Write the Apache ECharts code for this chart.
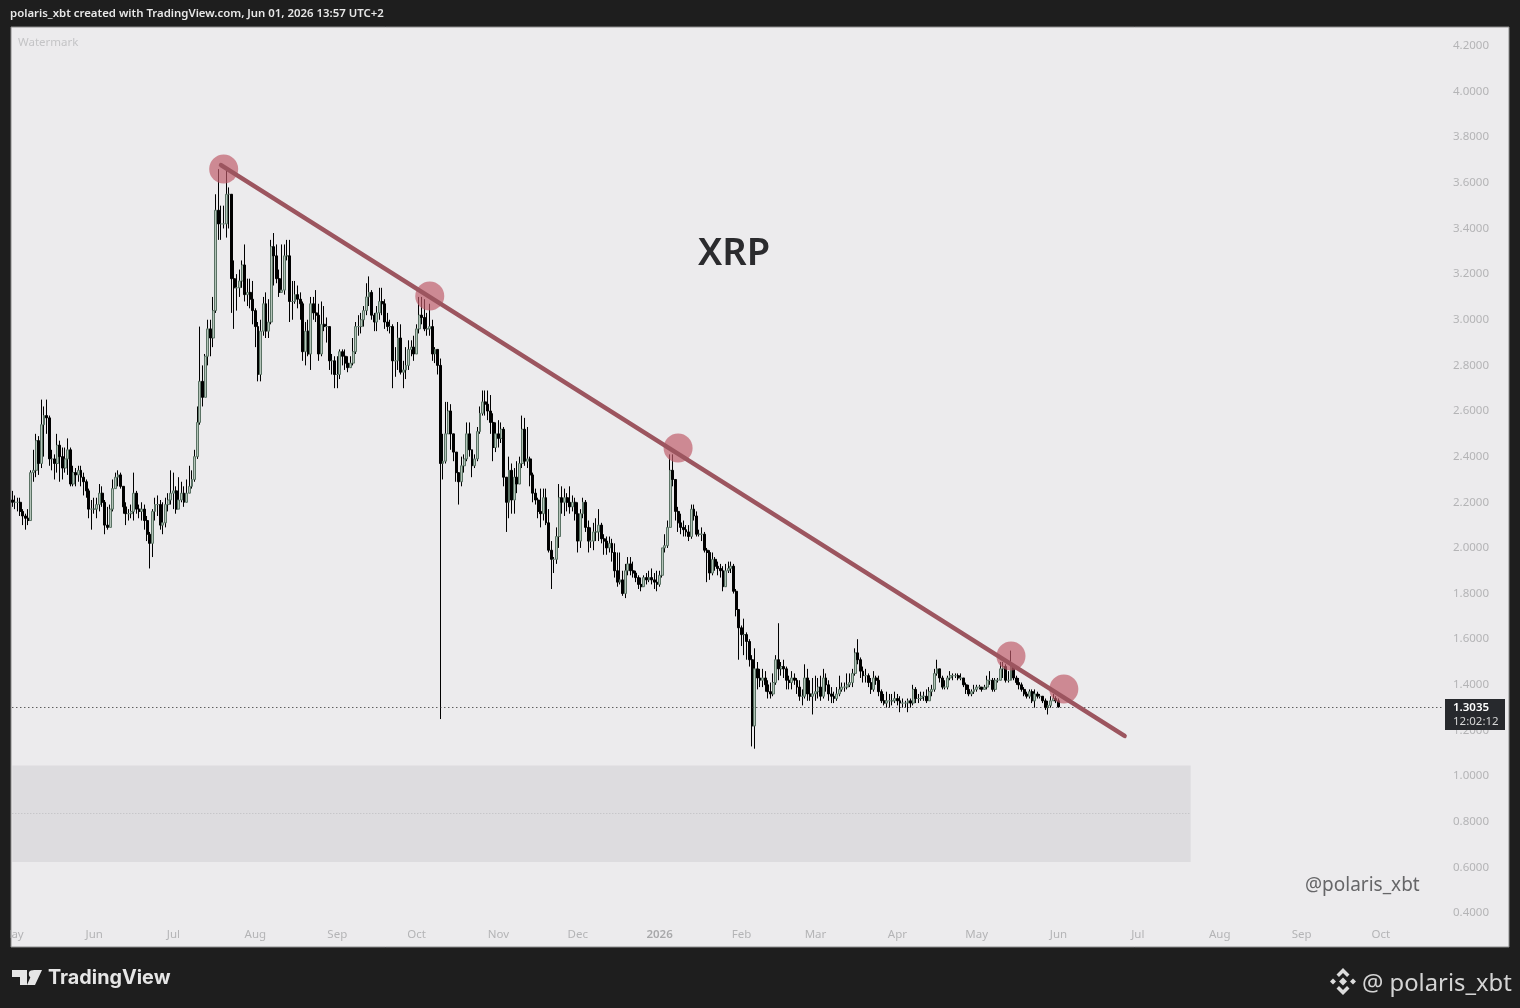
<!DOCTYPE html>
<html><head><meta charset="utf-8">
<style>html,body{margin:0;padding:0;background:#1e1e1e}#c{width:1520px;height:1008px}</style>
<script src="https://cdn.jsdelivr.net/npm/echarts@6/dist/echarts.min.js"></script>
</head><body><div id="c"></div>
<script>
// Daily XRP candles, 1 May 2025 – 1 Jun 2026 (one line per month)
const closes = [
2.20,2.20,2.20,2.16,2.14,2.13,2.12,2.33,2.34,2.47,2.37,2.54,2.58,2.57,2.39,2.39,2.37,2.45,2.40,2.35,2.39,2.43,2.28,2.33,2.32,2.34,2.31,2.29,2.25,2.17,2.17,
2.17,2.19,2.24,2.20,2.10,2.09,2.17,2.26,2.31,2.32,2.27,2.18,2.15,2.15,2.16,2.24,2.17,2.16,2.17,2.12,2.06,2.02,2.16,2.19,2.19,2.10,2.11,2.19,2.21,2.24,
2.25,2.17,2.21,2.24,2.20,2.24,2.27,2.30,2.40,2.55,2.73,2.66,2.84,2.96,2.92,3.04,3.48,3.42,3.42,3.42,3.55,3.55,3.18,3.14,3.14,3.17,3.24,3.11,3.12,3.09,3.04,
2.97,2.76,2.95,3.07,2.95,2.99,3.32,3.28,3.18,3.12,3.13,3.28,3.28,3.08,3.08,3.11,3.09,3.07,2.86,2.95,2.85,3.07,3.03,3.02,2.85,2.98,2.97,2.97,2.82,2.82,2.76,
2.76,2.86,2.84,2.81,2.79,2.81,2.86,2.97,2.97,3.00,3.04,3.10,3.12,3.02,2.99,3.03,3.08,3.07,2.99,2.97,2.97,2.82,2.82,2.92,2.77,2.78,2.80,2.87,2.88,2.85,
2.96,3.02,3.01,2.96,2.96,2.97,2.85,2.87,2.80,2.37,2.38,2.50,2.60,2.50,2.42,2.33,2.29,2.36,2.39,2.50,2.43,2.36,2.39,2.51,2.59,2.64,2.63,2.60,2.55,2.44,2.50,
2.48,2.52,2.31,2.20,2.34,2.21,2.31,2.28,2.37,2.52,2.38,2.39,2.32,2.24,2.21,2.16,2.15,2.22,2.11,1.99,1.95,1.95,2.05,2.22,2.20,2.22,2.20,2.18,2.20,2.15,
2.03,2.15,2.20,2.09,2.03,2.03,2.07,2.07,2.10,2.04,2.03,2.00,2.02,1.98,1.90,1.85,1.86,1.80,1.90,1.93,1.90,1.89,1.87,1.84,1.83,1.87,1.86,1.87,1.86,1.85,1.84,
1.88,2.00,2.01,2.09,2.34,2.30,2.16,2.11,2.09,2.08,2.07,2.05,2.17,2.14,2.06,2.06,2.06,1.99,1.98,1.89,1.95,1.92,1.91,1.90,1.83,1.90,1.91,1.92,1.81,1.73,1.65,
1.62,1.62,1.59,1.51,1.22,1.47,1.43,1.42,1.43,1.40,1.37,1.36,1.41,1.51,1.47,1.48,1.47,1.42,1.41,1.43,1.42,1.39,1.35,1.35,1.43,1.36,1.35,1.36,
1.37,1.39,1.35,1.43,1.40,1.36,1.35,1.34,1.36,1.38,1.39,1.39,1.40,1.41,1.45,1.54,1.51,1.46,1.44,1.44,1.41,1.38,1.43,1.42,1.37,1.33,1.32,1.33,1.33,1.33,1.34,
1.33,1.32,1.32,1.32,1.33,1.32,1.38,1.34,1.34,1.35,1.35,1.33,1.37,1.38,1.45,1.47,1.43,1.39,1.39,1.43,1.44,1.44,1.44,1.43,1.43,1.40,1.38,1.36,1.37,1.38,
1.39,1.39,1.38,1.39,1.42,1.42,1.38,1.42,1.42,1.47,1.48,1.42,1.42,1.48,1.43,1.41,1.40,1.38,1.36,1.35,1.37,1.33,1.36,1.35,1.35,1.33,1.30,1.31,1.33,1.34,1.33,
1.3035];
const highs = [
2.25,2.23,2.22,2.22,2.17,2.15,2.17,2.34,2.43,2.50,2.49,2.65,2.62,2.65,2.58,2.43,2.41,2.50,2.47,2.44,2.44,2.48,2.44,2.36,2.35,2.36,2.36,2.33,2.30,2.26,2.21,
2.22,2.22,2.28,2.27,2.21,2.18,2.19,2.30,2.33,2.34,2.33,2.27,2.20,2.17,2.19,2.33,2.25,2.19,2.20,2.19,2.14,2.07,2.17,2.22,2.23,2.21,2.20,2.22,2.24,2.34,
2.33,2.27,2.31,2.29,2.27,2.30,2.36,2.34,2.43,2.62,2.97,2.80,2.85,3.00,3.00,3.10,3.55,3.66,3.50,3.50,3.66,3.58,3.55,3.26,3.20,3.22,3.26,3.33,3.18,3.18,3.17,
3.05,2.99,3.00,3.10,3.12,3.09,3.35,3.38,3.33,3.22,3.33,3.33,3.35,3.35,3.17,3.17,3.15,3.12,3.08,2.99,3.00,3.10,3.10,3.13,3.07,3.08,3.06,3.01,2.97,2.85,2.84,
2.84,2.87,2.87,2.87,2.84,2.84,2.92,2.99,3.02,3.03,3.06,3.16,3.19,3.13,3.03,3.06,3.14,3.14,3.09,3.03,3.00,2.98,2.88,2.99,2.98,2.82,2.88,2.91,2.91,2.93,
2.98,3.10,3.10,3.09,3.03,3.07,3.00,2.88,2.87,2.83,2.50,2.64,2.64,2.63,2.50,2.42,2.33,2.40,2.41,2.55,2.55,2.43,2.41,2.53,2.62,2.69,2.69,2.69,2.67,2.59,2.55,
2.56,2.55,2.53,2.31,2.40,2.37,2.35,2.38,2.40,2.58,2.57,2.53,2.40,2.33,2.26,2.22,2.26,2.26,2.26,2.17,2.03,1.96,2.09,2.28,2.27,2.26,2.24,2.27,2.23,2.22,
2.20,2.17,2.22,2.21,2.12,2.09,2.11,2.13,2.17,2.11,2.06,2.05,2.05,2.04,2.02,1.98,1.98,1.90,1.93,1.96,1.96,1.94,1.90,1.88,1.87,1.88,1.89,1.90,1.91,1.89,1.90,
1.90,2.00,2.06,2.12,2.41,2.41,2.30,2.18,2.15,2.12,2.10,2.10,2.19,2.19,2.16,2.08,2.09,2.07,2.00,1.99,1.98,1.96,1.94,1.93,1.92,1.93,1.94,1.94,1.93,1.82,1.73,
1.66,1.69,1.63,1.60,1.53,1.56,1.50,1.47,1.47,1.46,1.42,1.41,1.45,1.53,1.67,1.50,1.51,1.48,1.44,1.46,1.45,1.43,1.42,1.38,1.49,1.47,1.42,1.43,
1.44,1.43,1.44,1.47,1.45,1.42,1.39,1.37,1.39,1.44,1.41,1.41,1.45,1.45,1.47,1.56,1.60,1.52,1.48,1.47,1.45,1.43,1.46,1.44,1.44,1.38,1.36,1.37,1.36,1.36,1.37,
1.36,1.35,1.34,1.33,1.34,1.34,1.40,1.39,1.36,1.37,1.37,1.38,1.39,1.40,1.47,1.51,1.47,1.44,1.42,1.44,1.46,1.45,1.45,1.45,1.45,1.43,1.41,1.40,1.38,1.40,
1.40,1.40,1.39,1.40,1.44,1.46,1.43,1.43,1.43,1.50,1.50,1.49,1.46,1.55,1.49,1.44,1.43,1.41,1.39,1.37,1.38,1.38,1.38,1.37,1.36,1.35,1.34,1.33,1.35,1.36,1.35,
1.34];
const lows = [
2.18,2.17,2.16,2.14,2.10,2.08,2.10,2.12,2.29,2.31,2.32,2.35,2.40,2.50,2.36,2.34,2.30,2.33,2.29,2.30,2.33,2.32,2.27,2.27,2.27,2.29,2.27,2.23,2.22,2.13,2.08,
2.15,2.13,2.16,2.18,2.06,2.08,2.12,2.16,2.26,2.27,2.26,2.15,2.10,2.12,2.13,2.12,2.15,2.13,2.12,2.08,2.03,1.91,1.96,2.12,2.14,2.08,2.06,2.09,2.16,2.19,
2.17,2.15,2.19,2.20,2.18,2.20,2.24,2.26,2.29,2.39,2.54,2.62,2.72,2.80,2.84,2.88,3.03,3.35,3.35,3.40,3.36,3.40,3.03,2.96,3.04,3.10,3.14,3.08,3.06,3.05,2.98,
2.88,2.73,2.73,2.93,2.92,2.92,2.98,3.15,3.16,3.10,3.12,3.11,3.26,2.99,3.00,3.07,3.05,3.00,2.82,2.80,2.84,2.78,3.00,2.99,2.82,2.84,2.95,2.90,2.78,2.76,2.70,
2.70,2.74,2.80,2.78,2.77,2.79,2.80,2.85,2.93,2.94,2.97,3.02,3.06,3.00,2.95,2.95,3.00,3.02,2.96,2.95,2.94,2.70,2.75,2.78,2.76,2.70,2.74,2.78,2.84,2.82,
2.85,2.94,2.98,2.95,2.93,2.93,2.82,2.81,2.76,1.25,2.30,2.37,2.50,2.43,2.38,2.29,2.19,2.27,2.33,2.38,2.40,2.31,2.35,2.38,2.50,2.58,2.58,2.56,2.50,2.38,2.42,
2.44,2.46,2.27,2.07,2.13,2.15,2.15,2.24,2.28,2.35,2.36,2.35,2.27,2.20,2.19,2.13,2.09,2.12,2.10,1.98,1.82,1.89,1.93,2.00,2.15,2.14,2.16,2.15,2.16,2.12,
1.98,2.00,2.13,2.07,1.98,2.00,1.99,2.03,2.03,2.02,1.97,1.97,1.98,1.94,1.87,1.83,1.84,1.79,1.78,1.88,1.88,1.87,1.85,1.82,1.81,1.83,1.84,1.85,1.84,1.82,1.81,
1.83,1.87,1.98,2.00,2.09,2.27,2.12,2.07,2.06,2.05,2.05,2.03,2.04,2.12,2.05,2.05,2.03,1.98,1.85,1.86,1.88,1.90,1.88,1.87,1.81,1.83,1.89,1.89,1.80,1.70,1.51,
1.57,1.53,1.51,1.48,1.13,1.12,1.38,1.39,1.39,1.37,1.34,1.34,1.35,1.40,1.42,1.44,1.43,1.38,1.38,1.38,1.40,1.36,1.33,1.31,1.34,1.33,1.33,1.27,
1.33,1.34,1.33,1.34,1.37,1.33,1.32,1.32,1.33,1.35,1.37,1.37,1.38,1.39,1.39,1.44,1.49,1.43,1.41,1.41,1.39,1.36,1.37,1.40,1.35,1.32,1.31,1.30,1.30,1.31,1.32,
1.31,1.28,1.30,1.30,1.28,1.30,1.31,1.32,1.32,1.33,1.33,1.32,1.33,1.35,1.37,1.44,1.41,1.38,1.38,1.38,1.42,1.42,1.43,1.42,1.42,1.39,1.36,1.35,1.35,1.36,
1.37,1.38,1.37,1.38,1.38,1.40,1.37,1.37,1.41,1.42,1.43,1.41,1.41,1.42,1.42,1.40,1.38,1.37,1.35,1.34,1.34,1.32,1.30,1.34,1.34,1.32,1.29,1.27,1.30,1.33,1.32,
1.30];
const firstOpen = 2.21;
const priceTicks = [0.4,0.6,0.8,1.0,1.2,1.4,1.6,1.8,2.0,2.2,2.4,2.6,2.8,3.0,3.2,3.4,3.6,3.8,4.0,4.2];
const monthLabels = {'2025-05-01':'May','2025-06-01':'Jun','2025-07-01':'Jul','2025-08-01':'Aug','2025-09-01':'Sep','2025-10-01':'Oct','2025-11-01':'Nov','2025-12-01':'Dec','2026-01-01':'2026','2026-02-01':'Feb','2026-03-01':'Mar','2026-04-01':'Apr','2026-05-01':'May','2026-06-01':'Jun','2026-07-01':'Jul','2026-08-01':'Aug','2026-09-01':'Sep','2026-10-01':'Oct'};
const touchDates = ['2025-07-20','2025-10-06','2026-01-08','2026-05-14','2026-06-03'];
const touchPrices = [3.661,3.104,2.438,1.526,1.382];
const trendDates = ['2025-07-19','2026-06-26'];
const trendPrices = [3.678,1.176];
const zoneDates = ['2025-05-01','2026-07-21'];
const zonePrices = [1.046,0.6235];
const zoneMid = 0.838;
const lastPrice = 1.3035;
const lastPriceEndDate = '2026-10-25';

const categories = [];
for (let t = Date.UTC(2025,4,1), n = 0; n < 567; n++, t += 864e5) categories.push(new Date(t).toISOString().slice(0,10));
const opens = closes.map((c,i) => i ? closes[i-1] : firstOpen);
const full = closes.map((c,i) => [opens[i], c, lows[i], highs[i]]);
const bodies = closes.map((c,i) => [opens[i], c, Math.min(opens[i],c), Math.max(opens[i],c)]);

const axisFont = 'Noto Sans';
const poly = (points, fill) => ({type:'polygon', z:101, shape:{points}, style:{fill}});
const chart = echarts.init(document.getElementById('c'), null, {width:1520,height:1008});
chart.setOption({
  animation:false,
  backgroundColor:'#1e1e1e',
  grid:{left:11,right:11,top:27,bottom:61,outerBoundsMode:'none',show:true,backgroundColor:'#ecebed',borderColor:'#8c8c8c',borderWidth:1},
  xAxis:{type:'category',data:categories,boundaryGap:true,
    axisLine:{show:false},axisTick:{show:false},splitLine:{show:false},
    axisLabel:{inside:true,margin:6,color:'#b4b4b6',fontFamily:axisFont,fontSize:11.5,
      interval:(i,v)=>v in monthLabels,
      formatter:(v)=>monthLabels[v]==='2026'?'{y|2026}':(monthLabels[v]||''),
      rich:{y:{fontWeight:600,color:'#a8a8aa',fontFamily:axisFont,fontSize:11.5}}}},
  yAxis:{type:'value',position:'right',min:0.251,max:4.283,
    axisLine:{show:false},axisTick:{show:false},splitLine:{show:false},
    axisLabel:{inside:true,margin:20,padding:[2,0,0,0],customValues:priceTicks,color:'#b4b4b6',fontFamily:axisFont,fontSize:11.5,
      formatter:(v)=>v.toFixed(4)}},
  series:[
    {name:'XRP wicks',type:'candlestick',z:2,barWidth:1,data:full,
     itemStyle:{color:'#000',color0:'#000',borderColor:'#000',borderColor0:'#000',borderWidth:1},
     markArea:{silent:true,itemStyle:{color:'#dddcdf'},
       data:[[{coord:[zoneDates[0],zonePrices[0]]},{coord:[zoneDates[1],zonePrices[1]]}]]},
     markLine:{silent:true,symbol:'none',label:{show:false},animation:false,
       data:[
        [{coord:[categories[0],lastPrice],lineStyle:{color:'#1c1c1c',type:[1,3],width:1}},{coord:[lastPriceEndDate,lastPrice]}],
        [{coord:[zoneDates[0],zoneMid],lineStyle:{color:'#bdbcbf',type:[1,2],width:1}},{coord:[zoneDates[1],zoneMid]}]
       ]}},
    {name:'XRP bodies',type:'candlestick',z:3,barWidth:2.4,data:bodies,
     itemStyle:{color:'#b4c4b9',color0:'#000',borderColor:'#5a7264',borderColor0:'#000',borderWidth:1}},
    {name:'Touches',type:'scatter',z:4,symbol:'circle',symbolSize:29,data:touchDates.map((d,i)=>[d,touchPrices[i]]),
     itemStyle:{color:'rgba(190,90,105,0.68)',opacity:1},silent:true},
    {name:'Trendline',type:'line',z:5,showSymbol:false,symbol:'none',data:trendDates.map((d,i)=>[d,trendPrices[i]]),
     lineStyle:{color:'#9c555f',width:4.5,cap:'round'},silent:true}
  ],
  graphic:{elements:[
    {type:'rect',z:100,shape:{x:0,y:27,width:10,height:921},style:{fill:'#1e1e1e'}},
    {type:'text',z:101,x:10,y:8,style:{text:'polaris_xbt created with TradingView.com, Jun 01, 2026 13:57 UTC+2',fill:'#e8e8e8',font:'600 11.4px "Noto Sans"'}},
    {type:'text',z:101,x:18,y:37,style:{text:'Watermark',fill:'#c4c4c6',font:'11.5px "Noto Sans"'}},
    {type:'text',z:101,x:698,y:235,style:{text:'XRP',fill:'#2b2b2e',font:'600 38px "Noto Sans"'}},
    {type:'text',z:101,x:1305,y:876,style:{text:'@polaris_xbt',fill:'#666668',font:'19px "Noto Sans"'}},
    {type:'rect',z:101,shape:{x:1445,y:699,width:60,height:31},style:{fill:'#27292d'}},
    {type:'text',z:102,x:1453,y:702,style:{text:'1.3035',fill:'#ffffff',font:'600 11.5px "Noto Sans"'}},
    {type:'text',z:102,x:1453,y:716,style:{text:'12:02:12',fill:'#d6d6d6',font:'11.5px "Noto Sans"'}},
    poly([[12,970],[27,970],[27,985],[20,985],[20,977],[12,977]],'#e6e6e6'),
    {type:'circle',z:101,shape:{cx:32.5,cy:974,r:3.7},style:{fill:'#e6e6e6'}},
    poly([[42,970],[35,985],[27,985],[33.5,970]],'#e6e6e6'),
    {type:'text',z:101,x:48,y:968,style:{text:'TradingView',fill:'#e6e6e6',font:'bold 19.8px "Inter"'}},
    poly([[1343,968],[1349.5,974.5],[1347,977],[1343,973],[1339,977],[1336.5,974.5]],'#dcdcdc'),
    poly([[1343,995],[1336.5,988.5],[1339,986],[1343,990],[1347,986],[1349.5,988.5]],'#dcdcdc'),
    poly([[1343,977.5],[1347,981.5],[1343,985.5],[1339,981.5]],'#dcdcdc'),
    poly([[1333,978.5],[1336,981.5],[1333,984.5],[1330,981.5]],'#dcdcdc'),
    poly([[1353,978.5],[1356,981.5],[1353,984.5],[1350,981.5]],'#dcdcdc'),
    {type:'text',z:101,x:1362,y:972,style:{text:'@ polaris_xbt',fill:'#d4d4d4',font:'23.8px "Noto Sans"'}}
  ]}
});
</script></body></html>
